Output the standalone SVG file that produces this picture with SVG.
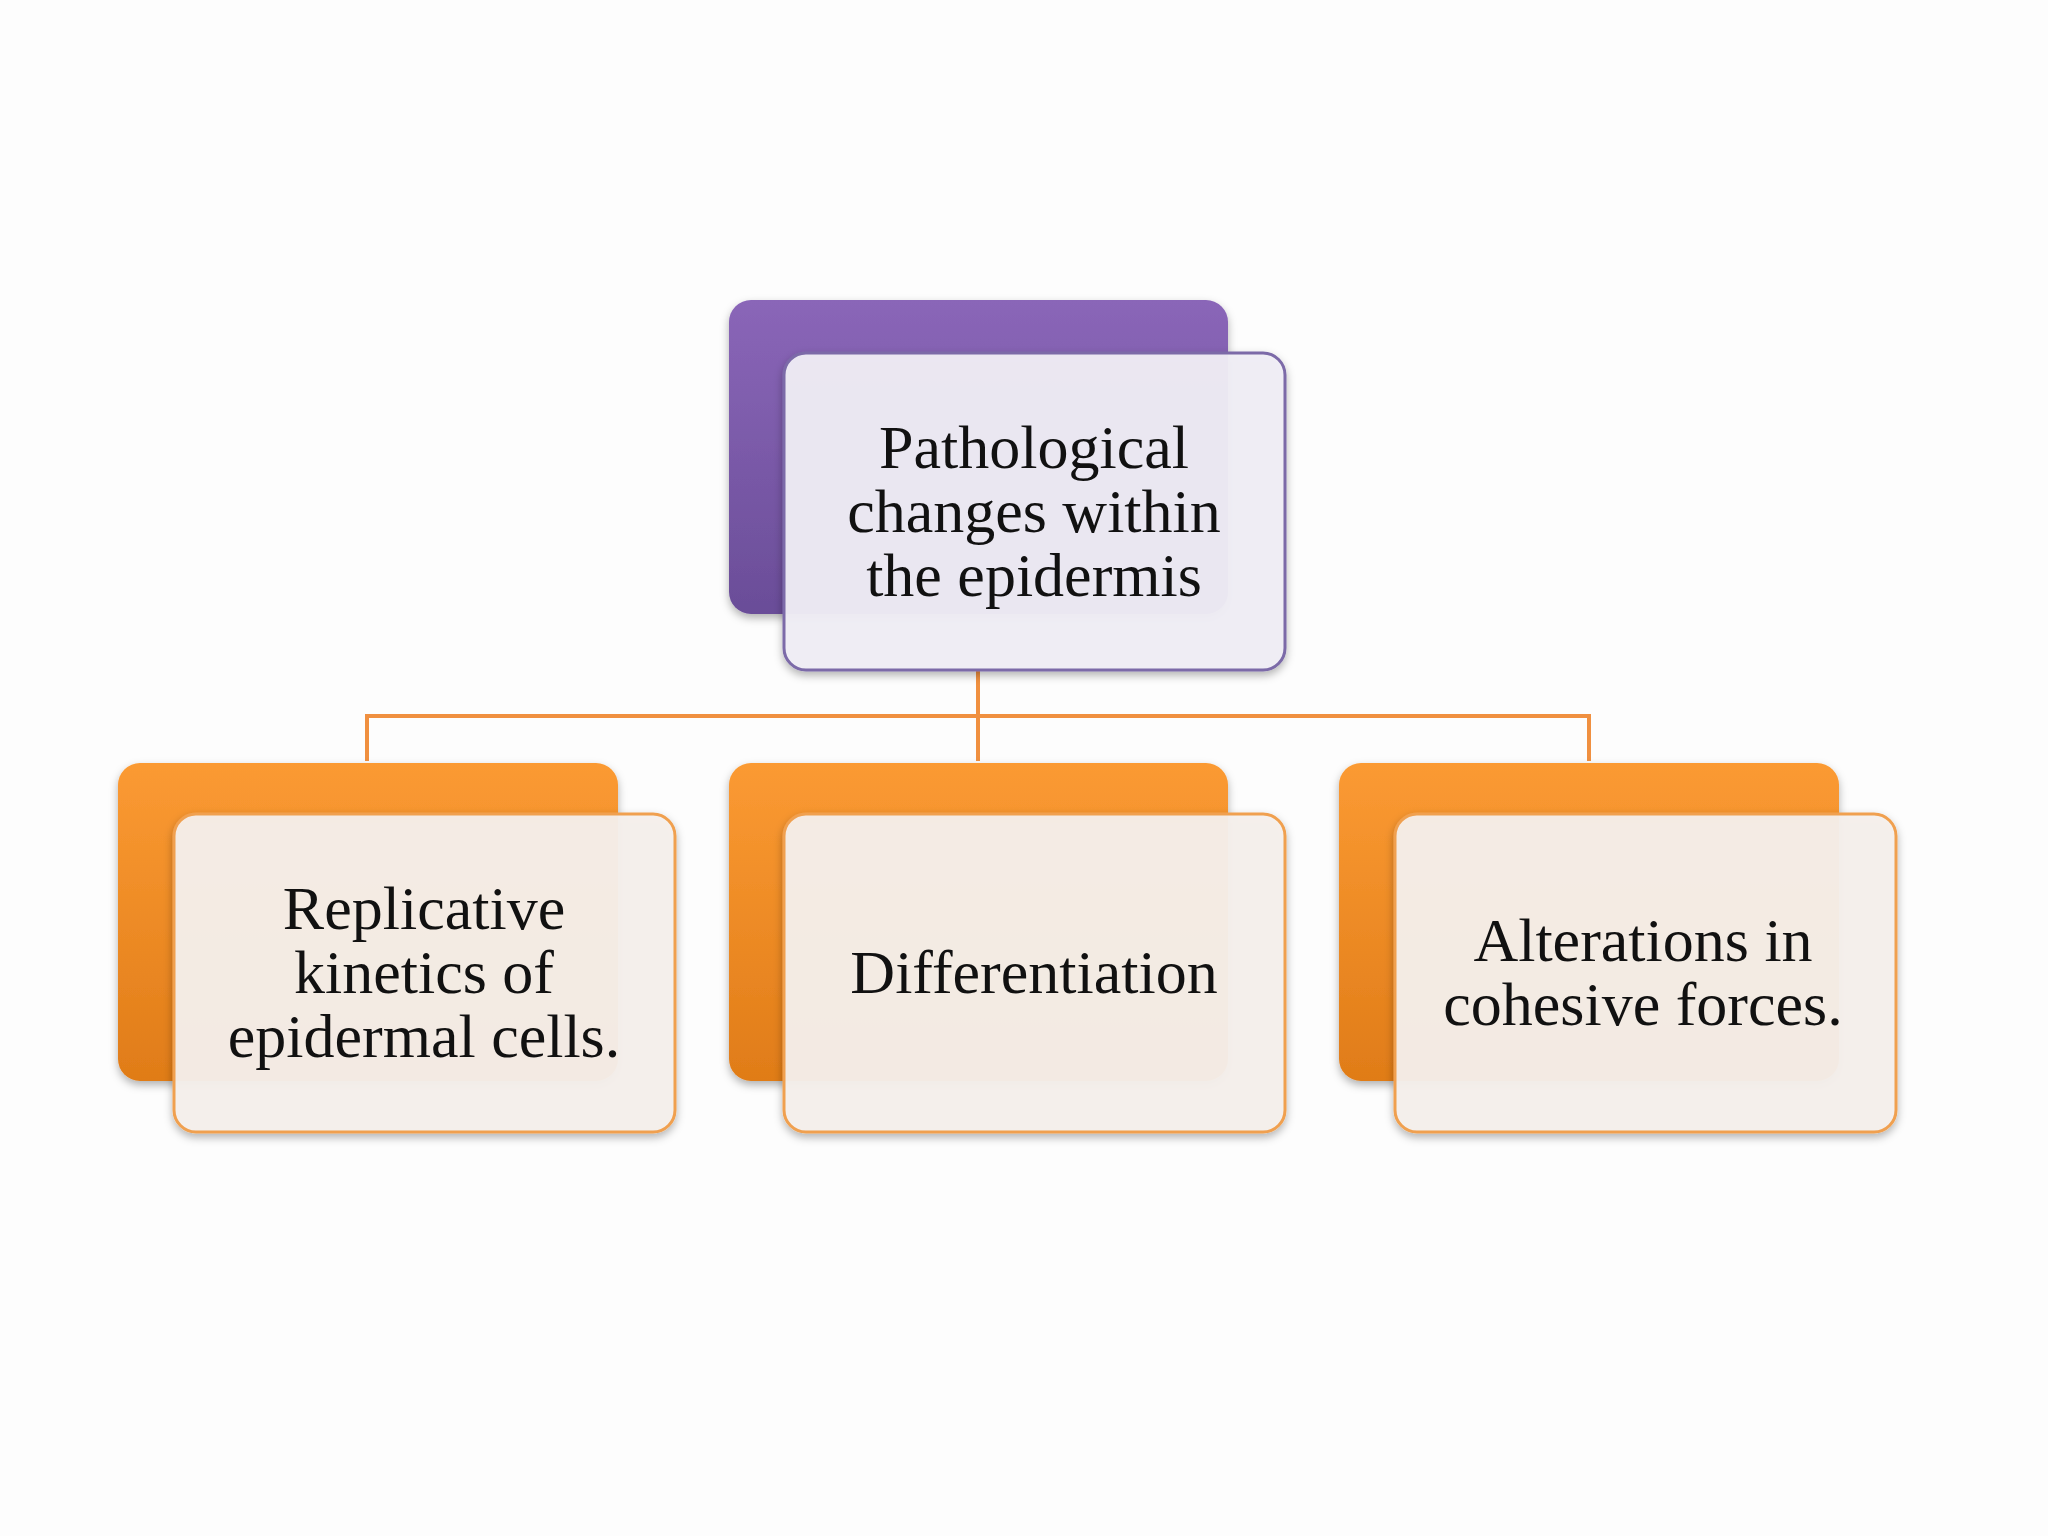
<svg xmlns="http://www.w3.org/2000/svg" width="2048" height="1536" viewBox="0 0 2048 1536">
<defs>
<linearGradient id="gp" x1="0" y1="0" x2="0" y2="1"><stop offset="0" stop-color="#8a66b8"/><stop offset="1" stop-color="#6a4d98"/></linearGradient>
<linearGradient id="go" x1="0" y1="0" x2="0" y2="1"><stop offset="0" stop-color="#fb9a33"/><stop offset="1" stop-color="#e07c18"/></linearGradient>
<filter id="sh" x="-10%" y="-10%" width="120%" height="120%"><feDropShadow dx="0" dy="4" stdDeviation="4" flood-opacity="0.3"/></filter>
<style>
.t{font-family:"Liberation Serif","DejaVu Serif",serif;font-size:62px;fill:#111;text-anchor:middle}
.fp{fill:#f0eef5;fill-opacity:0.95;stroke:#7b6aa8;stroke-width:3;filter:url(#sh)}
.fo{fill:#f6f0ec;fill-opacity:0.95;stroke:#f0a050;stroke-width:3;filter:url(#sh)}
.c{fill:none;stroke:#f09040;stroke-width:4}
</style>
</defs>
<rect width="2048" height="1536" fill="#fdfdfd"/>
<g id="connectors">
<path class="c" d="M978 670V761M367 761V716H1589V761"/>
</g>
<g id="root">
<rect x="729" y="300" width="499" height="314" rx="22" fill="url(#gp)" filter="url(#sh)"/>
<rect class="fp" x="784" y="353" width="501" height="317" rx="22"/>
<text class="t"><tspan x="1034" y="468">Pathological</tspan><tspan x="1034" y="532">changes within</tspan><tspan x="1034" y="596">the epidermis</tspan></text>
</g>
<g id="n1">
<rect x="118" y="763" width="500" height="318" rx="22" fill="url(#go)" filter="url(#sh)"/>
<rect class="fo" x="174" y="814" width="501" height="318" rx="22"/>
<text class="t"><tspan x="424" y="929">Replicative</tspan><tspan x="424" y="993">kinetics of</tspan><tspan x="424" y="1057">epidermal cells.</tspan></text>
</g>
<g id="n2">
<rect x="729" y="763" width="499" height="318" rx="22" fill="url(#go)" filter="url(#sh)"/>
<rect class="fo" x="784" y="814" width="501" height="318" rx="22"/>
<text class="t" x="1034" y="993">Differentiation</text>
</g>
<g id="n3">
<rect x="1339" y="763" width="500" height="318" rx="22" fill="url(#go)" filter="url(#sh)"/>
<rect class="fo" x="1395" y="814" width="501" height="318" rx="22"/>
<text class="t"><tspan x="1643" y="961">Alterations in</tspan><tspan x="1643" y="1025">cohesive forces.</tspan></text>
</g>
</svg>
